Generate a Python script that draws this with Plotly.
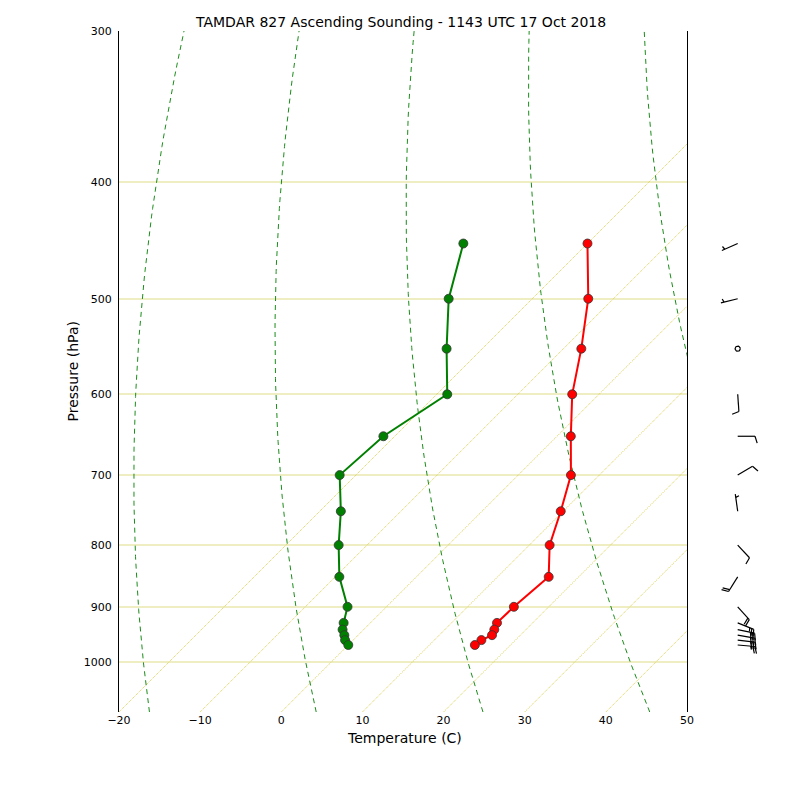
import numpy as np
import plotly.graph_objects as go

# ---------------- data ----------------
title_text = "TAMDAR 827 Ascending Sounding - 1143 UTC 17 Oct 2018"
pressure = [450, 500, 550, 600, 650, 700, 750, 800, 850, 900, 928, 940, 950, 959, 968]      # hPa
temperature = [-20.0, -13.1, -7.8, -3.3, 1.7, 6.5, 9.7, 12.5, 16.3, 15.7, 15.6, 16.1, 16.5, 15.8, 15.6]  # degC
dewpoint = [-35.3, -30.3, -24.4, -18.7, -21.4, -22.0, -17.4, -13.5, -9.5, -4.8, -3.3, -2.6, -1.7, -1.0, 0.0]  # degC
wind_speed = [5, 5, 0, 10, 10, 10, 5, 10, 20, 20, 25, 30, 30, 30, 25]            # kt
wind_dir = [246, 256, 0, 176, 90, 59, 352, 137, 212, 138, 112, 102, 100, 97, 95]  # deg (from)

x_ticks = [-20, -10, 0, 10, 20, 30, 40, 50]
x_ticktext = ["\u221220", "\u221210", "0", "10", "20", "30", "40", "50"]
p_ticks = [300, 400, 500, 600, 700, 800, 900, 1000]
isotherms = [-20, -10, 0, 10, 20, 30, 40, 50]
theta_lines = [230, 250, 270, 290, 310, 330, 350, 370, 390]  # K

# ---------------- layout constants ----------------
W, H = 800, 800
ML, MR, MT, MB = 119, 10, 31, 88
PW = W - ML - MR           # paper width in px
PH = H - MT - MB           # plot height in px
AX_W = 568                 # main axes width in px
T_MIN, T_MAX = -20, 50
P_BOT, P_TOP = 1100, 300

px_per_degC = AX_W / (T_MAX - T_MIN)
px_per_ln = PH / np.log(P_BOT / P_TOP)
SKEW = px_per_ln / px_per_degC   # 45-degree skew in display space


def skew_x(t, p):
    return np.asarray(t, float) + SKEW * np.log(P_BOT / np.asarray(p, float))


fig = go.Figure()

# isotherms (skewed x grid)
for t0 in isotherms:
    pp = np.array([P_BOT, P_TOP], float)
    fig.add_trace(go.Scatter(x=skew_x([t0, t0], pp), y=pp, mode="lines",
                             line=dict(color="#dccf48", width=1, dash="1px,1px"),
                             hoverinfo="skip", showlegend=False))

# dry adiabats
pgrid = np.linspace(P_BOT, P_TOP, 120)
for th in theta_lines:
    tk = th * (pgrid / 1000.0) ** 0.2857 - 273.15
    fig.add_trace(go.Scatter(x=skew_x(tk, pgrid), y=pgrid, mode="lines",
                             line=dict(color="#1a8c1a", width=1, dash="5px,4px"),
                             hoverinfo="skip", showlegend=False))

# temperature & dewpoint
fig.add_trace(go.Scatter(x=skew_x(temperature, pressure), y=pressure, mode="lines+markers",
                         line=dict(color="#ff0000", width=2),
                         marker=dict(color="#ff0000", size=9, line=dict(color="#333333", width=0.8)),
                         showlegend=False))
fig.add_trace(go.Scatter(x=skew_x(dewpoint, pressure), y=pressure, mode="lines+markers",
                         line=dict(color="#008000", width=2),
                         marker=dict(color="#008000", size=9, line=dict(color="#333333", width=0.8)),
                         showlegend=False))

# ---------------- wind barbs ----------------
BARB_X = 737.7     # px position of barb origins
L = 17.3           # shaft length px
spacing = 0.125 * L
bh = 0.4 * L
bw = 0.25 * L


def to_p(p0, dy):
    return p0 * np.exp(dy / px_per_ln)


bx, by = [], []
for p0, spd, d in zip(pressure, wind_speed, wind_dir):
    if spd < 2.5:
        ang = np.linspace(0, 2 * np.pi, 25)
        r = 0.15 * L
        bx += list(BARB_X + r * np.cos(ang)) + [None]
        by += list(to_p(p0, r * np.sin(ang))) + [None]
        continue
    b = np.radians(d)
    dx, dy = np.sin(b), -np.cos(b)      # toward direction wind comes from (px, y down)
    rx, ry = np.cos(b), np.sin(b)       # barb side
    n = int(round(spd / 5.0)) * 5
    full = (n % 50) // 10
    half = (n % 10) >= 5
    bx += [BARB_X, BARB_X + L * dx, None]
    by += [p0, to_p(p0, L * dy), None]
    off = L
    for _ in range(full):
        sx, sy = off * dx, off * dy
        ex, ey = sx + bh * rx + bw / 2 * dx, sy + bh * ry + bw / 2 * dy
        bx += [BARB_X + sx, BARB_X + ex, None]
        by += [to_p(p0, sy), to_p(p0, ey), None]
        off -= spacing
    if half:
        if off == L:
            off -= 1.5 * spacing
        sx, sy = off * dx, off * dy
        ex, ey = sx + bh / 2 * rx + bw / 4 * dx, sy + bh / 2 * ry + bw / 4 * dy
        bx += [BARB_X + sx, BARB_X + ex, None]
        by += [to_p(p0, sy), to_p(p0, ey), None]

fig.add_trace(go.Scatter(x=bx, y=by, xaxis="x2", yaxis="y2", mode="lines",
                         line=dict(color="black", width=1.2), hoverinfo="skip", showlegend=False))

main_dom = AX_W / PW
x2_lo = 700
fig.update_layout(
    width=W, height=H, autosize=False,
    margin=dict(l=ML, r=MR, t=MT, b=MB, autoexpand=False),
    paper_bgcolor="white", plot_bgcolor="white",
    font=dict(family="DejaVu Sans", size=11, color="black"),
    xaxis=dict(domain=[0, main_dom], range=[T_MIN, T_MAX], tickvals=x_ticks, ticktext=x_ticktext,
               showgrid=False, zeroline=False, showline=False, automargin=False,
               ticks="", tickfont=dict(size=11)),
    yaxis=dict(type="log", range=[np.log10(P_BOT), np.log10(P_TOP)], tickvals=p_ticks,
               ticktext=[str(v) for v in p_ticks], automargin=False,
               showgrid=True, gridcolor="#eeeec2", gridwidth=2, zeroline=False,
               showline=True, linecolor="black", linewidth=1.3, mirror=True,
               ticks="outside", ticklen=4, tickcolor="rgba(0,0,0,0)", tickfont=dict(size=11)),
    xaxis2=dict(domain=[(x2_lo - ML) / PW, 1.0], range=[x2_lo, W - MR], anchor="y2",
                visible=False, showgrid=False, zeroline=False, automargin=False),
    yaxis2=dict(type="log", range=[np.log10(P_BOT), np.log10(P_TOP)], anchor="x2",
                visible=False, showgrid=False, zeroline=False, automargin=False),
    annotations=[
        dict(text=title_text, x=(400.5 - ML) / PW, y=(PH + MT - 22) / PH, xref="paper", yref="paper",
             xanchor="center", yanchor="middle", showarrow=False, font=dict(size=14)),
        dict(text="Temperature (C)", x=(404.5 - ML) / PW, y=-(738 - MT - PH) / PH, xref="paper", yref="paper",
             xanchor="center", yanchor="middle", showarrow=False, font=dict(size=14)),
        dict(text="Pressure (hPa)", x=(72 - ML) / PW, y=0.5, xref="paper", yref="paper",
             xanchor="center", yanchor="middle", textangle=-90, showarrow=False, font=dict(size=14)),
    ],
)

fig.write_html("out.html", config={"responsive": False})
